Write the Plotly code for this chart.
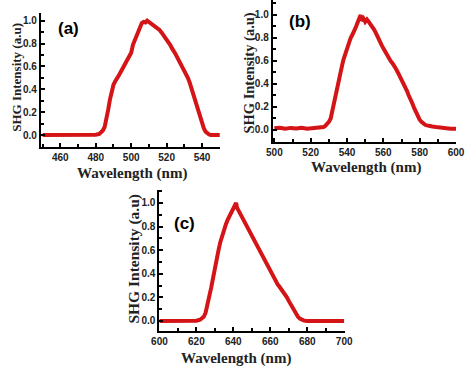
import plotly.graph_objects as go

# ---- data ----
wl_a = [450, 455, 460, 465, 470, 475, 480, 482, 483, 484, 485, 486, 487, 488, 489, 490,
        491, 492, 493, 494, 495, 496, 497, 498, 499, 500, 501, 502, 503, 504, 505, 506,
        507, 508, 509, 510, 511, 512, 513, 514, 515, 516, 517, 518, 519, 520, 521, 522,
        523, 524, 525, 526, 527, 528, 529, 530, 531, 532, 533, 534, 535, 536, 537, 538,
        539, 540, 541, 542, 543, 544, 545, 547, 550]
int_a = [0, 0, 0, 0, 0, 0, 0.003, 0.01, 0.02, 0.04, 0.07, 0.13, 0.22, 0.31, 0.38, 0.44,
         0.47, 0.49, 0.52, 0.55, 0.58, 0.60, 0.63, 0.66, 0.69, 0.72, 0.79, 0.83, 0.87, 0.91, 0.95, 0.98,
         0.99, 0.985, 1.0, 0.99, 0.98, 0.97, 0.96, 0.95, 0.93, 0.92, 0.90, 0.88, 0.86, 0.84, 0.81, 0.79,
         0.76, 0.74, 0.71, 0.68, 0.65, 0.62, 0.59, 0.57, 0.54, 0.50, 0.46, 0.41, 0.36, 0.31, 0.25, 0.20,
         0.15, 0.10, 0.06, 0.03, 0.015, 0.005, 0.0, 0, 0]

wl_b = [500, 503, 506, 509, 512, 515, 518, 521, 524, 526, 527, 528, 529, 530, 531, 532,
        533, 534, 535, 536, 537, 538, 539, 540, 541, 542, 543, 544, 545, 546, 547, 547.5,
        548, 549, 550, 551, 552, 553, 554, 555, 556, 557, 558, 559, 560, 561, 562, 563,
        564, 565, 566, 567, 568, 569, 570, 571, 572, 573, 574, 575, 576, 577, 578, 579,
        580, 581, 582, 583, 584, 585, 587, 589, 591, 594, 597, 600]
int_b = [0.015, 0.02, 0.01, 0.018, 0.012, 0.02, 0.01, 0.015, 0.012, 0.018, 0.025, 0.035, 0.05, 0.07, 0.10, 0.18,
         0.26, 0.33, 0.41, 0.48, 0.54, 0.61, 0.66, 0.71, 0.76, 0.80, 0.83, 0.86, 0.90, 0.94, 0.98, 1.0,
         0.95, 0.97, 0.94, 0.96, 0.94, 0.92, 0.90, 0.87, 0.84, 0.80, 0.77, 0.74, 0.71, 0.68, 0.65, 0.62,
         0.60, 0.58, 0.56, 0.53, 0.50, 0.47, 0.44, 0.40, 0.37, 0.34, 0.30, 0.27, 0.23, 0.19, 0.15, 0.12,
         0.09, 0.07, 0.055, 0.045, 0.04, 0.035, 0.03, 0.025, 0.02, 0.02, 0.01, 0.01]

wl_c = [600, 605, 610, 615, 620, 622, 623, 624, 625, 626, 627, 628, 629, 630, 631, 632,
        633, 634, 635, 636, 637, 638, 639, 640, 641, 641.5, 642, 643, 644, 645, 646, 647,
        648, 649, 650, 651, 652, 653, 654, 655, 656, 657, 658, 659, 660, 661, 662, 663,
        664, 665, 666, 667, 668, 669, 670, 671, 672, 673, 674, 675, 676, 677, 678, 679,
        680, 685, 690, 695, 700]
int_c = [0, 0, 0, 0, 0.002, 0.01, 0.02, 0.035, 0.07, 0.13, 0.20, 0.28, 0.36, 0.45, 0.53, 0.60,
         0.67, 0.73, 0.78, 0.82, 0.86, 0.89, 0.92, 0.95, 0.98, 1.0, 0.96, 0.93, 0.90, 0.87, 0.84, 0.81,
         0.78, 0.75, 0.72, 0.69, 0.66, 0.63, 0.60, 0.57, 0.54, 0.51, 0.48, 0.45, 0.42, 0.39, 0.36, 0.34,
         0.31, 0.29, 0.27, 0.25, 0.23, 0.20, 0.17, 0.14, 0.11, 0.08, 0.055, 0.035, 0.02, 0.01, 0.005, 0.002,
         0, 0, 0, 0, 0]

x_ticks_a = [460, 480, 500, 520, 540]
x_ticks_b = [500, 520, 540, 560, 580, 600]
x_ticks_c = [600, 620, 640, 660, 680, 700]
y_ticks = [0.0, 0.2, 0.4, 0.6, 0.8, 1.0]
panel_labels = ["(a)", "(b)", "(c)"]
x_title = "Wavelength (nm)"
y_title = "SHG Intensity (a.u)"

RED = "rgb(212,20,22)"
W, H = 474, 366

fig = go.Figure()
for i, (xs, ys) in enumerate([(wl_a, int_a), (wl_b, int_b), (wl_c, int_c)]):
    sfx = "" if i == 0 else str(i + 1)
    fig.add_trace(go.Scatter(x=xs, y=ys, mode="lines", line=dict(color=RED, width=4),
                             xaxis="x" + sfx, yaxis="y" + sfx, showlegend=False, hoverinfo="skip"))

tickfont = dict(family="Liberation Sans", size=10, color="#222222", weight="bold")


def xa(dom, rng, ticks, anchor):
    return dict(domain=dom, range=rng, anchor=anchor, tickvals=ticks,
                ticks="inside", ticklen=4, tickwidth=2, tickcolor="black",
                minor=dict(dtick=10, tick0=0, ticks="inside", ticklen=3, tickwidth=1.5, tickcolor="black"),
                showline=True, linecolor="black", linewidth=2, showgrid=False, zeroline=False,
                tickfont=tickfont)


def ya(dom, rng, anchor):
    return dict(domain=dom, range=rng, anchor=anchor, tickvals=y_ticks, ticktext=[f"{v:.1f}" for v in y_ticks],
                ticks="inside", ticklen=4, tickwidth=2, tickcolor="black",
                minor=dict(dtick=0.1, tick0=0, ticks="inside", ticklen=3, tickwidth=1.5, tickcolor="black"),
                showline=True, linecolor="black", linewidth=2, showgrid=False, zeroline=False,
                tickfont=tickfont)


def px(x):
    return x / W


def py(y):
    return 1 - y / H


fig.update_layout(
    width=W, height=H, margin=dict(l=0, r=0, t=0, b=0),
    paper_bgcolor="white", plot_bgcolor="white",
    xaxis=xa([px(34), px(219.5)], [449, 550.2], x_ticks_a, "y"),
    yaxis=ya([py(146.7), py(13.3)], [-0.102, 1.065], "x"),
    xaxis2=xa([px(274), px(464)], [499.1, 600.2], x_ticks_b, "y2"),
    yaxis2=ya([py(141.7), py(0)], [-0.102, 1.13], "x2"),
    xaxis3=xa([px(156.7), px(348.3)], [600, 700.2], x_ticks_c, "y3"),
    yaxis3=ya([py(331), py(190)], [-0.085, 1.11], "x3"),
)

ann = []
xt_font = dict(family="Liberation Serif", size=15, color="#222222", weight="bold")
lab_font = dict(family="Liberation Sans", size=17, color="black", weight="bold")
# x titles
for (cx, cy) in [(128, 173), (370, 167.5), (236, 358)]:
    ann.append(dict(text=x_title, x=px(cx), y=py(cy), xref="paper", yref="paper",
                    showarrow=False, font=xt_font, xanchor="center", yanchor="middle"))
# y titles (the three panels were drawn at slightly different scales)
for (cx, cy, fs) in [(8, 77, 13), (249, 73, 14.5), (130, 259, 15.5)]:
    ann.append(dict(text=y_title, x=px(cx), y=py(cy), xref="paper", yref="paper", textangle=-90,
                    showarrow=False, xanchor="center", yanchor="middle",
                    font=dict(family="Liberation Serif", size=fs, color="#222222", weight="bold")))
# panel labels
for lab, (cx, cy) in zip(panel_labels, [(63, 29), (302, 22), (183, 223)]):
    ann.append(dict(text=lab, x=px(cx), y=py(cy), xref="paper", yref="paper",
                    showarrow=False, font=lab_font, xanchor="center", yanchor="middle"))
fig.update_layout(annotations=ann)

fig.write_html("out.html", config={"displayModeBar": False},
               post_script="document.body.style.margin='0';document.body.style.overflow='hidden';")
